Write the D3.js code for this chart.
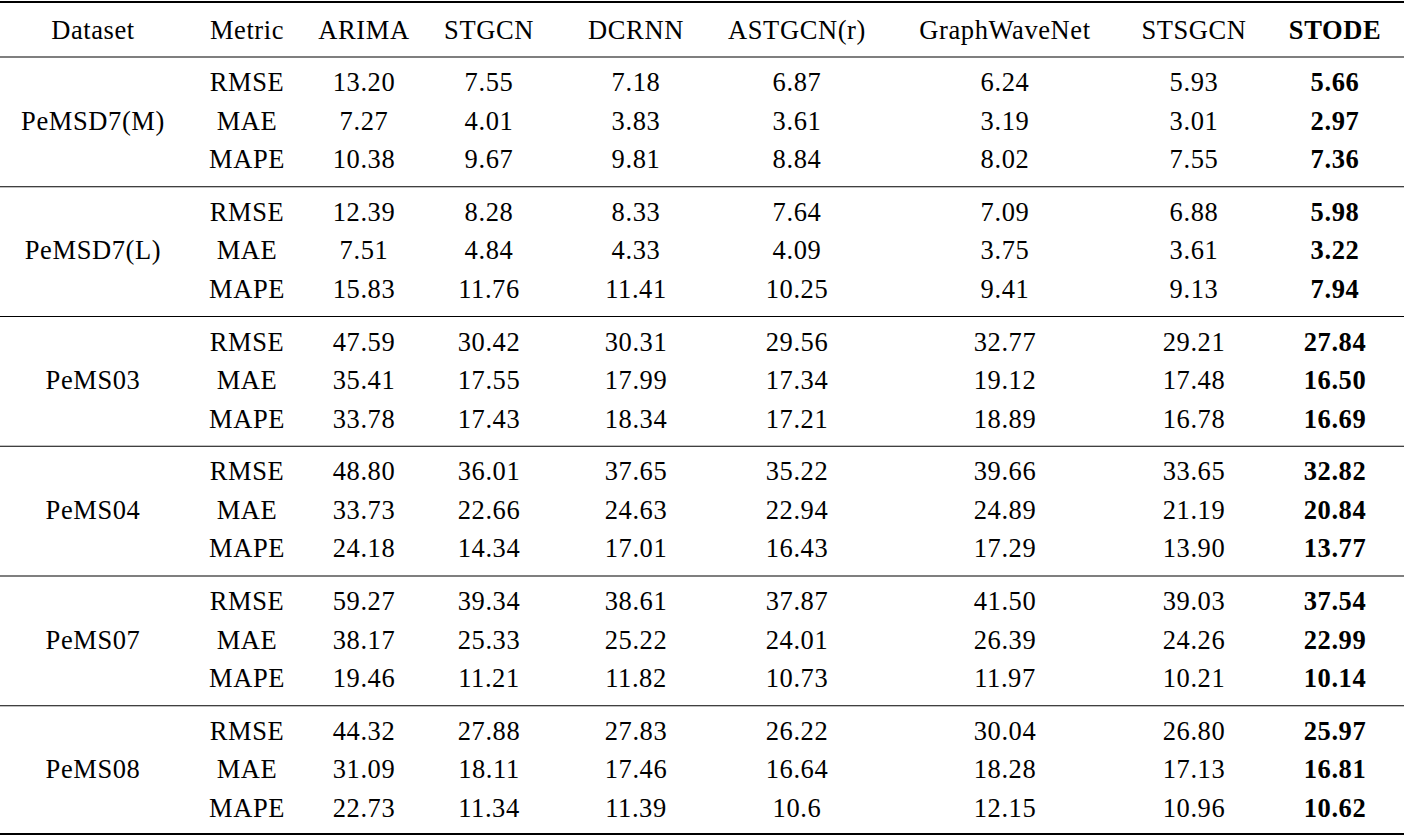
<!DOCTYPE html>
<html><head><meta charset="utf-8">
<script src="https://cdn.jsdelivr.net/npm/d3@7"></script>
<style>body{margin:0;background:#fff}</style></head>
<body><svg id="c" width="1404" height="840"></svg>
<script>
const columns = ["Dataset","Metric","ARIMA","STGCN","DCRNN","ASTGCN(r)","GraphWaveNet","STSGCN","STODE"];
const datasets = ["PeMSD7(M)","PeMSD7(L)","PeMS03","PeMS04","PeMS07","PeMS08"];
const metrics = ["RMSE","MAE","MAPE"];
const values = [
 [["13.20","7.55","7.18","6.87","6.24","5.93","5.66"],["7.27","4.01","3.83","3.61","3.19","3.01","2.97"],["10.38","9.67","9.81","8.84","8.02","7.55","7.36"]],
 [["12.39","8.28","8.33","7.64","7.09","6.88","5.98"],["7.51","4.84","4.33","4.09","3.75","3.61","3.22"],["15.83","11.76","11.41","10.25","9.41","9.13","7.94"]],
 [["47.59","30.42","30.31","29.56","32.77","29.21","27.84"],["35.41","17.55","17.99","17.34","19.12","17.48","16.50"],["33.78","17.43","18.34","17.21","18.89","16.78","16.69"]],
 [["48.80","36.01","37.65","35.22","39.66","33.65","32.82"],["33.73","22.66","24.63","22.94","24.89","21.19","20.84"],["24.18","14.34","17.01","16.43","17.29","13.90","13.77"]],
 [["59.27","39.34","38.61","37.87","41.50","39.03","37.54"],["38.17","25.33","25.22","24.01","26.39","24.26","22.99"],["19.46","11.21","11.82","10.73","11.97","10.21","10.14"]],
 [["44.32","27.88","27.83","26.22","30.04","26.80","25.97"],["31.09","18.11","17.46","16.64","18.28","17.13","16.81"],["22.73","11.34","11.39","10.6","12.15","10.96","10.62"]]
];
const svg = d3.select("#c");
const font = "'Liberation Serif', serif";
const fs = 26.5;
const x = d3.scaleOrdinal().domain(columns).range([93,247,364,489,636,797,1005,1194,1335]);
const gy = d3.scaleLinear().domain([0,6]).range([57,835.5]);
const rowH = 38.5;
const rowY = (g,r) => gy(g) + 25 + r*rowH;
function txt(xx,yy,t,bold){
  svg.append("text").attr("x",xx).attr("y",yy).attr("text-anchor","middle")
   .attr("dominant-baseline","central").attr("font-family",font).attr("font-size",fs)
   .attr("letter-spacing",0.6)
   .attr("font-weight",bold?"bold":"normal").attr("fill","#000").text(t);
}
columns.forEach(c=>txt(x(c),30,c,c==="STODE"));
datasets.forEach((d,g)=>{
  txt(x("Dataset"),rowY(g,1),d);
  metrics.forEach((m,r)=>{
    txt(x("Metric"),rowY(g,r),m);
    values[g][r].forEach((v,k)=>txt(x(columns[k+2]),rowY(g,r),v,k===6));
  });
});
const line=(yy,w)=>svg.append("line").attr("x1",0).attr("x2",1404).attr("y1",yy).attr("y2",yy).attr("stroke","#000").attr("stroke-width",w);
line(2,2);
d3.range(0,6).forEach(g=>line(gy(g),1.2));
line(834,2);
</script></body></html>
